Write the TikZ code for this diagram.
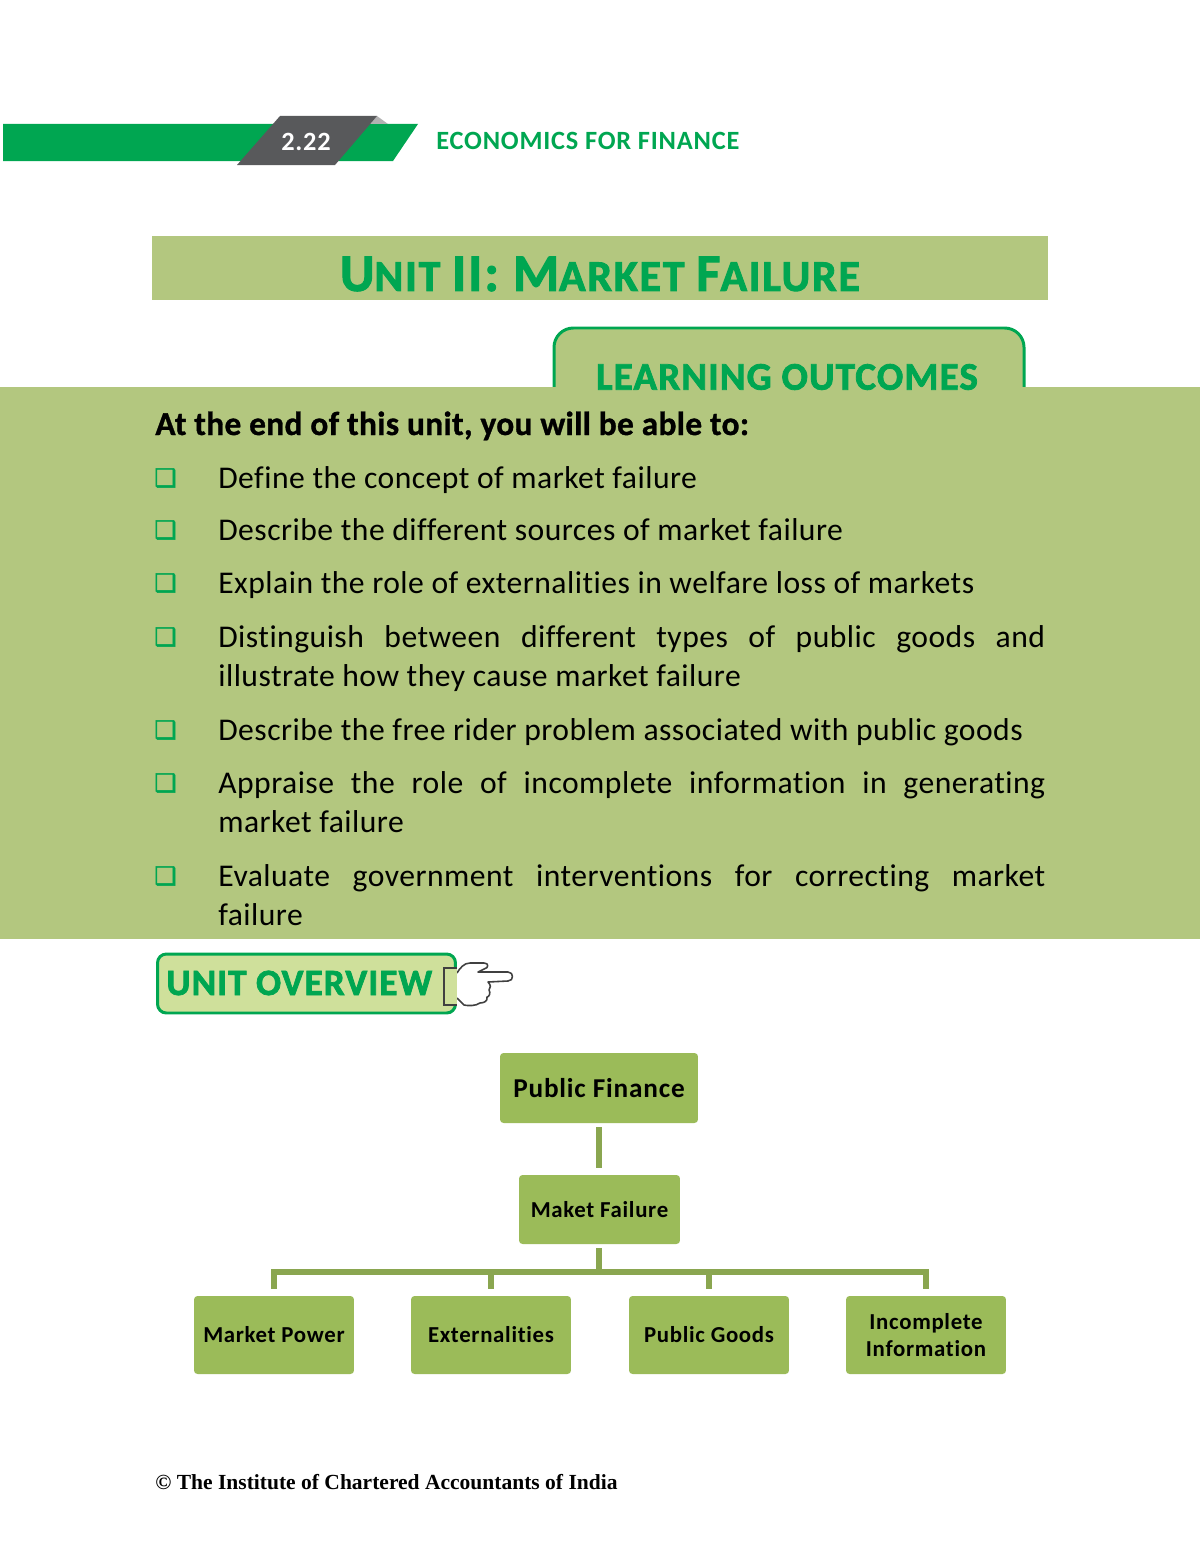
\documentclass[tikz,border=0pt]{standalone}
\usepackage{fontspec}
\setmainfont[Ligatures=NoCommon]{Carlito}
\newfontfamily\bodyface[Ligatures=NoCommon,LetterSpace=1.5]{Carlito}
\newfontfamily\labelface[Ligatures=NoCommon,LetterSpace=3,UprightFont=* Bold]{Carlito}
\newfontfamily\strongface[Ligatures=NoCommon,LetterSpace=1,FakeBold=1,UprightFont=* Bold]{Carlito}
\newfontfamily\heavyface[Ligatures=NoCommon,LetterSpace=3,FakeBold=2,UprightFont=* Bold]{Carlito}
\newfontfamily\titleface[Ligatures=NoCommon,LetterSpace=4,FakeBold=2,UprightFont=* Bold]{Carlito}
\newfontfamily\serifface{Liberation Serif}
\newfontfamily\symface[FakeBold=2]{DejaVu Sans}
\definecolor{barGreen}{HTML}{00A651}
\definecolor{bandGreen}{HTML}{B3C77F}
\definecolor{tabGreen}{HTML}{CFE09B}
\definecolor{treeGreen}{HTML}{9BBB59}
\definecolor{treeLine}{HTML}{8AA650}
\definecolor{pageGrey}{HTML}{58595B}
\tikzset{
  outcome/.style={anchor=base west,inner sep=0pt,text width=16.54cm,align=justify,font=\bodyface\fontsize{18}{22.3}\selectfont},
  tick/.style={anchor=center,inner sep=0pt,text=barGreen,font=\symface\fontsize{14}{14}\selectfont},
  treebox/.style={fill=treeGreen,rounded corners=2pt,inner sep=0pt,align=center,font=\labelface\fontsize{13}{15}\selectfont},
  leafbox/.style={treebox,minimum width=3.2cm,minimum height=1.56cm},
  treeline/.style={draw=treeLine,line width=3.9pt},
}
\begin{document}
\begin{tikzpicture}[x=0.02cm,y=-0.02cm]
      \useasboundingbox (0,0) rectangle (1200,1548);
      % page head
      \fill[barGreen] (3,124) -- (418,124) -- (393,161) -- (3,161) -- cycle;
      \fill[gray!60] (377,116) -- (388,124) -- (370,124) -- cycle;
      \fill[pageGrey] (280,116) -- (377,116) -- (335,165) -- (237,165) -- cycle;
      \node[text=white,font=\labelface\fontsize{15}{15}\selectfont] (page) at (306,142) {2.22};
      \node[anchor=base west,inner sep=0pt,text=barGreen,font=\labelface\fontsize{15}{15}\selectfont] (running) at (436,150) {ECONOMICS FOR FINANCE};
      % title
      \fill[bandGreen] (152,236) rectangle (1048,300);
      \node[text=barGreen,font=\titleface\fontsize{25}{25}\selectfont] (title) at (600,274) {{\fontsize{30}{30}\selectfont U}NIT {\fontsize{30}{30}\selectfont II: M}ARKET {\fontsize{30}{30}\selectfont F}AILURE};
      % outcomes
      \draw[draw=barGreen,fill=bandGreen,line width=1.7pt,rounded corners=11pt] (554,395) -- (554,328) -- (1024,328) -- (1024,395);
      \fill[bandGreen] (0,387) rectangle (1200,939);
      \node[text=barGreen,font=\heavyface\fontsize{22.2}{22.2}\selectfont] (learn) at (787,377) {LEARNING OUTCOMES};
      \node[anchor=base west,inner sep=0pt,font=\strongface\fontsize{19}{19}\selectfont] (intro) at (155,435) {At the end of this unit, you will be able to:};
      \foreach \i/\y/\txt in {1/488/Define the concept of market failure,
                              2/540/Describe the different sources of market failure,
                              3/593/Explain the role of externalities in welfare loss of markets,
                              4/647/Distinguish between different types of public goods and\linebreak illustrate how they cause market failure,
                              5/740/Describe the free rider problem associated with public goods,
                              6/793/Appraise the role of incomplete information in generating\linebreak market failure,
                              7/886/Evaluate government interventions for correcting market\linebreak failure}
        {
          \node[outcome] (out\i) at (218,\y) {\txt};
          \node[tick] (tick\i) at (165.5,\y-10) {❑};
        }
      % overview
      \node[draw=barGreen,fill=tabGreen,line width=1.7pt,rounded corners=5pt,minimum width=5.96cm,minimum height=1.18cm,inner sep=0pt] (overview) at (306.5,983.5) {};
      \node[anchor=base west,inner sep=0pt,text=barGreen,font=\heavyface\fontsize{21.1}{21.1}\selectfont] (overviewtext) at (166,995) {UNIT OVERVIEW};
      \draw[black!75,fill=white,line width=0.9pt,line join=round] (457,973) .. controls (460,968) and (464,963) .. (470,963) -- (484,963) .. controls (489,963) and (489,968) .. (484,969) -- (478,972) -- (508,972) .. controls (514,972) and (514,981) .. (508,981) -- (488,982) .. controls (491,985) and (491,988) .. (489,990) .. controls (491,993) and (489,997) .. (487,997) .. controls (488,1001) and (484,1003) .. (480,1003) .. controls (476,1006) and (468,1006) .. (464,1005) -- (457,998);
      \draw[black!75,fill=tabGreen,line width=1.2pt] (457,968) -- (444,968) -- (444,1005) -- (457,1005);
      % tree
      \node[treebox,minimum width=3.96cm,minimum height=1.4cm,font=\labelface\fontsize{15.5}{15.5}\selectfont] (finance) at (599,1088) {Public Finance};
      \node[treebox,minimum width=3.22cm,minimum height=1.38cm] (failure) at (599.5,1209.5) {Maket Failure};
      \node[leafbox] (power) at (274,1335) {Market Power};
      \node[leafbox] (extern) at (491,1335) {Externalities};
      \node[leafbox] (goods) at (709,1335) {Public Goods};
      \node[leafbox] (info) at (926,1335) {Incomplete\\Information};
      \coordinate (bus) at (599,1272);
      \draw[treeline,shorten <=0.08cm,shorten >=0.14cm] (finance.south) -- (finance.south |- failure.north);
      \draw[treeline,shorten <=0.08cm] (bus |- failure.south) -- (bus);
      \draw[treeline,shorten <=0.14cm,shorten >=0.14cm] (power.north) |- (bus) -| (info.north);
      \draw[treeline,shorten <=0.14cm] (extern.north) -- (extern.north |- bus);
      \draw[treeline,shorten <=0.14cm] (goods.north) -- (goods.north |- bus);
      % foot
      \node[anchor=base west,inner sep=0pt,font=\serifface\bfseries\fontsize{12.25}{12.25}\selectfont] (foot) at (155,1489) {© The Institute of Chartered Accountants of India};
    \end{tikzpicture}
\end{document}
